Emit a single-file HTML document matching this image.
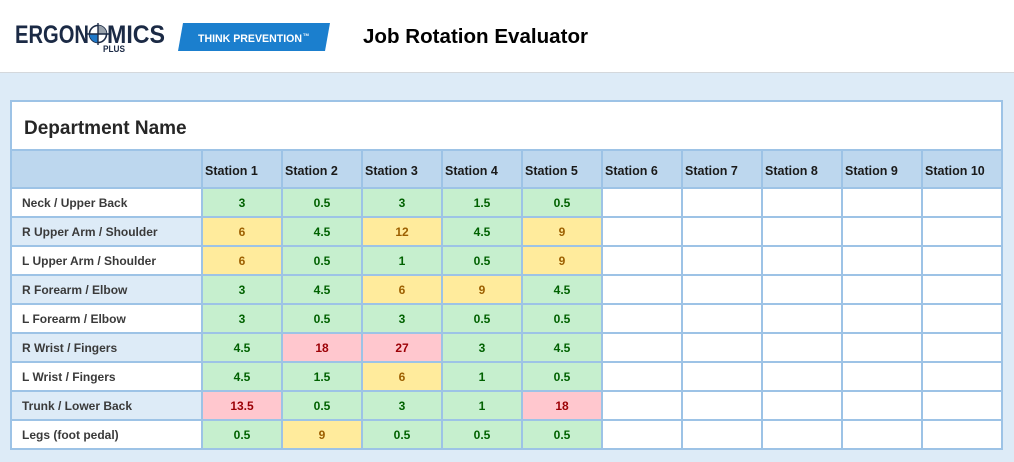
<!DOCTYPE html>
<html>
<head>
<meta charset="utf-8">
<style>
  html,body{margin:0;padding:0;}
  body{width:1014px;height:462px;background:#ddebf7;position:relative;overflow:hidden;font-family:"Liberation Sans",sans-serif;}
  .top{position:absolute;left:0;top:0;width:1014px;height:72px;background:#fff;border-bottom:1px solid #d4d8dc;}
  .grid{position:absolute;left:10px;top:100px;width:989px;height:346px;padding:2px;background:#9dc3e6;
    display:grid;grid-template-columns:189px repeat(10,78px);grid-template-rows:47px 36px repeat(9,27px);gap:2px;}
  .grid div{display:flex;align-items:center;font-weight:bold;font-size:12px;box-sizing:border-box;padding-top:1px;}
  .title{grid-column:1 / span 11;background:#fff;font-size:19px !important;color:#262626;padding-left:12px;padding-top:6px !important;}
  .h{background:#bdd7ee;color:#1a1a1a;padding-left:2px;font-size:12.5px !important;padding-top:3px !important;}
  .hb{background:#bdd7ee;}
  .l{background:#fff;color:#3a3a3a;padding-left:10px;}
  .l.a{background:#ddebf7;}
  .g,.y,.r,.e{justify-content:center;}
  .g{background:#c6efce;color:#006100;}
  .y{background:#ffeb9c;color:#9c5f00;}
  .r{background:#ffc7ce;color:#9c0006;}
  .e{background:#fff;}
</style>
</head>
<body>
<div class="top">
  <svg width="600" height="72" style="position:absolute;left:0;top:0">
    <text x="15" y="43" font-family="Liberation Sans" font-weight="bold" font-size="25" fill="#1b2a45" textLength="74" lengthAdjust="spacingAndGlyphs">ERGON</text>
    <g transform="translate(98,34)">
      <circle r="8.5" fill="#fff" stroke="#1b2a45" stroke-width="1.6"/>
      <path d="M0,0 L0,-8.5 A8.5,8.5 0 0,1 8.5,0 Z" fill="#9aa3ad"/>
      <path d="M0,0 L-8.5,0 A8.5,8.5 0 0,0 0,8.5 Z" fill="#1f78c8"/>
      <line x1="-11" y1="0" x2="11" y2="0" stroke="#1b2a45" stroke-width="1.4"/>
      <line x1="0" y1="-11" x2="0" y2="11" stroke="#1b2a45" stroke-width="1.4"/>
    </g>
    <text x="107" y="43" font-family="Liberation Sans" font-weight="bold" font-size="25" fill="#1b2a45" textLength="58" lengthAdjust="spacingAndGlyphs">MICS</text>
    <text x="103" y="52" font-family="Liberation Sans" font-weight="bold" font-size="9" fill="#1b2a45" textLength="22" lengthAdjust="spacingAndGlyphs">PLUS</text>
    <polygon points="183,23 330,23 325,51 178,51" fill="#1b7fce"/>
    <text x="198" y="42" font-family="Liberation Sans" font-weight="bold" font-size="11" fill="#fff" textLength="104" lengthAdjust="spacingAndGlyphs">THINK PREVENTION</text>
    <text x="303" y="36" font-family="Liberation Sans" font-weight="bold" font-size="4" fill="#fff">TM</text>
    <text x="363" y="43" font-family="Liberation Sans" font-weight="bold" font-size="20" fill="#000" textLength="225" lengthAdjust="spacingAndGlyphs">Job Rotation Evaluator</text>
  </svg>
</div>

<div class="grid">
  <div class="title">Department Name</div>

  <div class="hb"></div>
  <div class="h">Station 1</div><div class="h">Station 2</div><div class="h">Station 3</div><div class="h">Station 4</div><div class="h">Station 5</div>
  <div class="h">Station 6</div><div class="h">Station 7</div><div class="h">Station 8</div><div class="h">Station 9</div><div class="h">Station 10</div>

  <div class="l">Neck / Upper Back</div>
  <div class="g">3</div><div class="g">0.5</div><div class="g">3</div><div class="g">1.5</div><div class="g">0.5</div>
  <div class="e"></div><div class="e"></div><div class="e"></div><div class="e"></div><div class="e"></div>

  <div class="l a">R Upper Arm / Shoulder</div>
  <div class="y">6</div><div class="g">4.5</div><div class="y">12</div><div class="g">4.5</div><div class="y">9</div>
  <div class="e"></div><div class="e"></div><div class="e"></div><div class="e"></div><div class="e"></div>

  <div class="l">L Upper Arm / Shoulder</div>
  <div class="y">6</div><div class="g">0.5</div><div class="g">1</div><div class="g">0.5</div><div class="y">9</div>
  <div class="e"></div><div class="e"></div><div class="e"></div><div class="e"></div><div class="e"></div>

  <div class="l a">R Forearm / Elbow</div>
  <div class="g">3</div><div class="g">4.5</div><div class="y">6</div><div class="y">9</div><div class="g">4.5</div>
  <div class="e"></div><div class="e"></div><div class="e"></div><div class="e"></div><div class="e"></div>

  <div class="l">L Forearm / Elbow</div>
  <div class="g">3</div><div class="g">0.5</div><div class="g">3</div><div class="g">0.5</div><div class="g">0.5</div>
  <div class="e"></div><div class="e"></div><div class="e"></div><div class="e"></div><div class="e"></div>

  <div class="l a">R Wrist / Fingers</div>
  <div class="g">4.5</div><div class="r">18</div><div class="r">27</div><div class="g">3</div><div class="g">4.5</div>
  <div class="e"></div><div class="e"></div><div class="e"></div><div class="e"></div><div class="e"></div>

  <div class="l">L Wrist / Fingers</div>
  <div class="g">4.5</div><div class="g">1.5</div><div class="y">6</div><div class="g">1</div><div class="g">0.5</div>
  <div class="e"></div><div class="e"></div><div class="e"></div><div class="e"></div><div class="e"></div>

  <div class="l a">Trunk / Lower Back</div>
  <div class="r">13.5</div><div class="g">0.5</div><div class="g">3</div><div class="g">1</div><div class="r">18</div>
  <div class="e"></div><div class="e"></div><div class="e"></div><div class="e"></div><div class="e"></div>

  <div class="l">Legs (foot pedal)</div>
  <div class="g">0.5</div><div class="y">9</div><div class="g">0.5</div><div class="g">0.5</div><div class="g">0.5</div>
  <div class="e"></div><div class="e"></div><div class="e"></div><div class="e"></div><div class="e"></div>
</div>
</body>
</html>
